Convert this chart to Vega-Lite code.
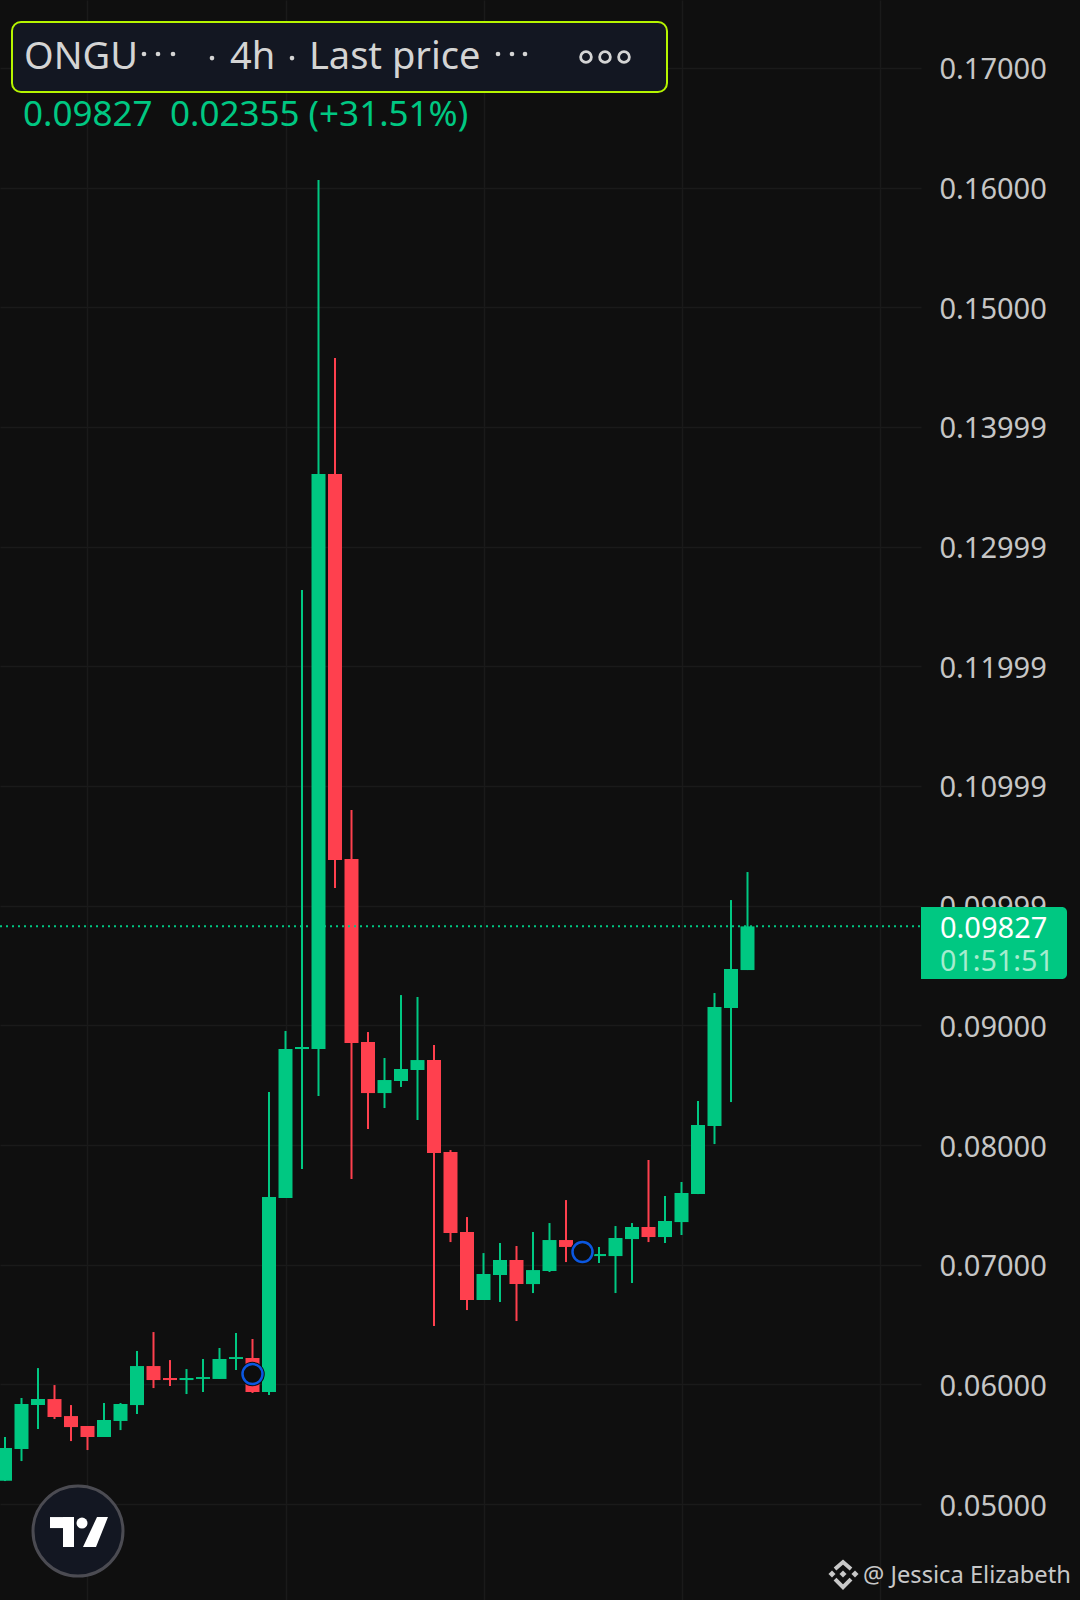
{"$schema":"https://vega.github.io/schema/vega-lite/v6.json","width":921,"height":1600,"autosize":{"type":"none"},"padding":{"left":0,"top":0,"right":159,"bottom":0},"background":"#0F0F0F","config":{"view":{"stroke":null},"font":"Noto Sans"},
"datasets":{"candles":[
{"i":0,"high":0.0556,"top":0.05468,"bottom":0.05195,"low":0.05192,"dir":"up"},
{"i":1,"high":0.05886,"top":0.05836,"bottom":0.0546,"low":0.05359,"dir":"up"},
{"i":2,"high":0.06136,"top":0.05877,"bottom":0.05827,"low":0.05627,"dir":"up"},
{"i":3,"high":0.05994,"top":0.05877,"bottom":0.05727,"low":0.0571,"dir":"down"},
{"i":4,"high":0.05827,"top":0.05735,"bottom":0.05643,"low":0.05526,"dir":"down"},
{"i":5,"high":0.05652,"top":0.05652,"bottom":0.0556,"low":0.05451,"dir":"down"},
{"i":6,"high":0.05844,"top":0.05702,"bottom":0.0556,"low":0.0556,"dir":"up"},
{"i":7,"high":0.05844,"top":0.05836,"bottom":0.05694,"low":0.05618,"dir":"up"},
{"i":8,"high":0.06279,"top":0.06153,"bottom":0.05827,"low":0.05752,"dir":"up"},
{"i":9,"high":0.06437,"top":0.06153,"bottom":0.06036,"low":0.05969,"dir":"down"},
{"i":10,"high":0.06203,"top":0.06053,"bottom":0.06036,"low":0.05986,"dir":"down"},
{"i":11,"high":0.06128,"top":0.06053,"bottom":0.06036,"low":0.05919,"dir":"up"},
{"i":12,"high":0.06212,"top":0.06061,"bottom":0.06045,"low":0.05936,"dir":"up"},
{"i":13,"high":0.06304,"top":0.06212,"bottom":0.06045,"low":0.06045,"dir":"up"},
{"i":14,"high":0.06429,"top":0.06228,"bottom":0.06212,"low":0.0612,"dir":"up"},
{"i":15,"high":0.06379,"top":0.0622,"bottom":0.05936,"low":0.05928,"dir":"down"},
{"i":16,"high":0.08443,"top":0.07565,"bottom":0.05936,"low":0.05911,"dir":"up"},
{"i":17,"high":0.08953,"top":0.08802,"bottom":0.07557,"low":0.07557,"dir":"up"},
{"i":18,"high":0.12638,"top":0.08819,"bottom":0.08802,"low":0.07799,"dir":"up"},
{"i":19,"high":0.16064,"top":0.13607,"bottom":0.08802,"low":0.08409,"dir":"up"},
{"i":20,"high":0.14576,"top":0.13607,"bottom":0.10381,"low":0.10148,"dir":"down"},
{"i":21,"high":0.10799,"top":0.1039,"bottom":0.08852,"low":0.07716,"dir":"down"},
{"i":22,"high":0.08944,"top":0.08861,"bottom":0.08434,"low":0.08134,"dir":"down"},
{"i":23,"high":0.08727,"top":0.08543,"bottom":0.08434,"low":0.08309,"dir":"up"},
{"i":24,"high":0.09253,"top":0.08635,"bottom":0.08535,"low":0.08485,"dir":"up"},
{"i":25,"high":0.09237,"top":0.0871,"bottom":0.08627,"low":0.08209,"dir":"up"},
{"i":26,"high":0.08836,"top":0.0871,"bottom":0.07933,"low":0.06487,"dir":"down"},
{"i":27,"high":0.07958,"top":0.07941,"bottom":0.07265,"low":0.07189,"dir":"down"},
{"i":28,"high":0.07398,"top":0.07273,"bottom":0.06705,"low":0.06621,"dir":"down"},
{"i":29,"high":0.07097,"top":0.06922,"bottom":0.06705,"low":0.06705,"dir":"up"},
{"i":30,"high":0.07181,"top":0.07039,"bottom":0.06914,"low":0.06688,"dir":"up"},
{"i":31,"high":0.07156,"top":0.07039,"bottom":0.06838,"low":0.06529,"dir":"down"},
{"i":32,"high":0.07273,"top":0.06955,"bottom":0.06838,"low":0.06763,"dir":"up"},
{"i":33,"high":0.07348,"top":0.07206,"bottom":0.06947,"low":0.06939,"dir":"up"},
{"i":34,"high":0.0754,"top":0.07206,"bottom":0.07148,"low":0.07022,"dir":"down"},
{"i":35,"high":0.07181,"top":0.07148,"bottom":0.07123,"low":0.07056,"dir":"up"},
{"i":36,"high":0.07148,"top":0.07089,"bottom":0.07072,"low":0.07014,"dir":"up"},
{"i":37,"high":0.07323,"top":0.07223,"bottom":0.07072,"low":0.06763,"dir":"up"},
{"i":38,"high":0.07348,"top":0.07315,"bottom":0.07214,"low":0.06847,"dir":"up"},
{"i":39,"high":0.07875,"top":0.07315,"bottom":0.07231,"low":0.07189,"dir":"down"},
{"i":40,"high":0.07574,"top":0.07365,"bottom":0.07231,"low":0.07181,"dir":"up"},
{"i":41,"high":0.07691,"top":0.07599,"bottom":0.07356,"low":0.07248,"dir":"up"},
{"i":42,"high":0.08368,"top":0.08167,"bottom":0.0759,"low":0.0759,"dir":"up"},
{"i":43,"high":0.0927,"top":0.09153,"bottom":0.08159,"low":0.08008,"dir":"up"},
{"i":44,"high":0.10047,"top":0.09471,"bottom":0.09145,"low":0.08359,"dir":"up"},
{"i":45,"high":0.10281,"top":0.09827,"bottom":0.09462,"low":0.09462,"dir":"up"}
]},
"encoding":{
"x":{"field":"i","type":"quantitative","title":null,"scale":{"domain":[-0.303,55.515],"nice":false,"zero":false,"padding":0},"axis":{"values":[5,17,29,41,53],"labels":false,"ticks":false,"domain":false,"title":null,"grid":true,"gridColor":"#1A1A1A","gridWidth":1.5}},
"y":{"field":"p","type":"quantitative","title":null,"scale":{"domain":[0.04198,0.17568],"nice":false,"zero":false},"axis":{"orient":"right","values":[0.05,0.06,0.07,0.08,0.09,0.1,0.11,0.12,0.13,0.14,0.15,0.16,0.17],"labelExpr":"datum.value>0.095&&datum.value<0.145?format(datum.value-0.00001,'.5f'):format(datum.value,'.5f')","labelFont":"Noto Sans","labelFontSize":29,"labelColor":"#C6C6C6","labelPadding":18,"labelOffset":2,"labelFlush":false,"labelOverlap":false,"ticks":false,"domain":false,"title":null,"grid":true,"gridColor":"#1A1A1A","gridWidth":1.5}}
},
"layer":[
{"data":{"name":"candles"},"mark":{"type":"rule","strokeWidth":2},"encoding":{"y":{"field":"low","type":"quantitative","title":null},"y2":{"field":"high"},"color":{"field":"dir","type":"nominal","legend":null,"scale":{"domain":["up","down"],"range":["#00C882","#FF404E"]}}}},
{"data":{"name":"candles"},"mark":{"type":"bar","size":14,"orient":"vertical"},"encoding":{"y":{"field":"bottom","type":"quantitative","title":null},"y2":{"field":"top"},"color":{"field":"dir","type":"nominal","legend":null,"scale":{"domain":["up","down"],"range":["#00C882","#FF404E"]}}}},
{"data":{"values":[{"i":-0.303,"i2":55.515,"p":0.09827}]},"mark":{"type":"rule","stroke":"#00C882","strokeWidth":2,"strokeDash":[2,4]},"encoding":{"x2":{"field":"i2"}}},
{"data":{"values":[{"i":15,"p":0.06086},{"i":35,"p":0.07106}]},"mark":{"type":"point","filled":true,"fill":"#0D0D0D","size":600,"opacity":1}},
{"data":{"values":[{"i":15,"p":0.06086},{"i":35,"p":0.07106}]},"mark":{"type":"point","filled":false,"stroke":"#0B57E0","strokeWidth":2.5,"size":400,"opacity":1}},
{"data":{"values":[{"i":0.424,"i2":40.121,"p":0.17384,"p2":0.16799}]},"mark":{"type":"rect","fill":"#131722","stroke":"#B6F500","strokeWidth":2,"cornerRadius":9},"encoding":{"x2":{"field":"i2"},"y2":{"field":"p2"}}},
{"data":{"values":[{"i":1.152,"p":0.16991,"label":"ONGU"},{"i":13.636,"p":0.16991,"label":"4h"},{"i":18.42,"p":0.16991,"label":"Last price"}]},"mark":{"type":"text","align":"left","baseline":"alphabetic","font":"Noto Sans","fontSize":38,"fill":"#D4D4D4"},"encoding":{"text":{"field":"label"}}},
{"data":{"values":[{"i":8.424,"p":0.17117},{"i":9.273,"p":0.17117},{"i":10.182,"p":0.17117},{"i":29.879,"p":0.17117},{"i":30.727,"p":0.17117},{"i":31.515,"p":0.17117},{"i":12.545,"p":0.17083},{"i":17.394,"p":0.17083}]},"mark":{"type":"point","shape":"circle","filled":true,"fill":"#D4D4D4","size":22,"opacity":1}},
{"data":{"values":[{"i":35.212,"p":0.17092},{"i":36.364,"p":0.17092},{"i":37.515,"p":0.17092}]},"mark":{"type":"point","shape":"circle","filled":false,"stroke":"#D4D4D4","strokeWidth":2.8,"size":115,"opacity":1}},
{"data":{"values":[{"i":1.091,"p":0.16515,"label":"0.09827"},{"i":10,"p":0.16515,"label":"0.02355 (+31.51%)"}]},"mark":{"type":"text","align":"left","baseline":"alphabetic","font":"Noto Sans","fontSize":35,"fill":"#00C882"},"encoding":{"text":{"field":"label"}}},
{"data":{"values":[{"i":55.515,"i2":64.364,"p":0.09989,"p2":0.09387}]},"mark":{"type":"rect","fill":"#00C882","cornerRadiusTopRight":5,"cornerRadiusBottomRight":5},"encoding":{"x2":{"field":"i2"},"y2":{"field":"p2"}}},
{"data":{"values":[{"i":56.667,"p":0.0973,"label":"0.09827"}]},"mark":{"type":"text","align":"left","baseline":"alphabetic","font":"Noto Sans","fontSize":29,"fill":"#FFFFFF"},"encoding":{"text":{"field":"label"}}},
{"data":{"values":[{"i":56.667,"p":0.09454,"label":"01:51:51"}]},"mark":{"type":"text","align":"left","baseline":"alphabetic","font":"Noto Sans","fontSize":28.7,"fill":"#A5ECCF"},"encoding":{"text":{"field":"label"}}},
{"data":{"values":[{"i":4.424,"p":0.04774}]},"mark":{"type":"point","shape":"circle","filled":false,"fill":"#131722","fillOpacity":1,"stroke":"#4B4B52","strokeWidth":3,"size":8100,"opacity":1}},
{"data":{"values":[{"i":2.727,"i2":4.182,"p":0.04891,"p2":0.04799},{"i":3.515,"i2":4.182,"p":0.04891,"p2":0.04641}]},"mark":{"type":"rect","fill":"#FFFFFF"},"encoding":{"x2":{"field":"i2"},"y2":{"field":"p2"}}},
{"data":{"values":[{"i":4.667,"p":0.04841}]},"mark":{"type":"point","shape":"circle","filled":true,"fill":"#FFFFFF","size":121,"opacity":1}},
{"data":{"values":[{"i":5.576,"i2":6.242,"p":0.04891},{"i":4.727,"i2":5.515,"p":0.04641}]},"mark":{"type":"area","orient":"horizontal","fill":"#FFFFFF"},"encoding":{"x2":{"field":"i2"}}},
{"data":{"values":[{"i":52,"p":0.0434,"label":"@ Jessica Elizabeth"}]},"mark":{"type":"text","align":"left","baseline":"alphabetic","font":"Noto Sans","fontSize":23.7,"fill":"#C8C8C8"},"encoding":{"text":{"field":"label"}}},
{"data":{"values":[{"g":"a","i":50.303,"p":0.04457},{"g":"a","i":50.788,"p":0.04515},{"g":"a","i":51.273,"p":0.04457},{"g":"b","i":50.303,"p":0.04373},{"g":"b","i":50.788,"p":0.04306},{"g":"b","i":51.273,"p":0.04373}]},"mark":{"type":"line","stroke":"#C8C8C8","strokeWidth":4},"encoding":{"detail":{"field":"g"}}},
{"data":{"values":[{"i":50.121,"p":0.04415},{"i":50.788,"p":0.04415},{"i":51.515,"p":0.04415}]},"mark":{"type":"point","shape":"diamond","filled":true,"fill":"#C8C8C8","size":50,"opacity":1}}
]}
